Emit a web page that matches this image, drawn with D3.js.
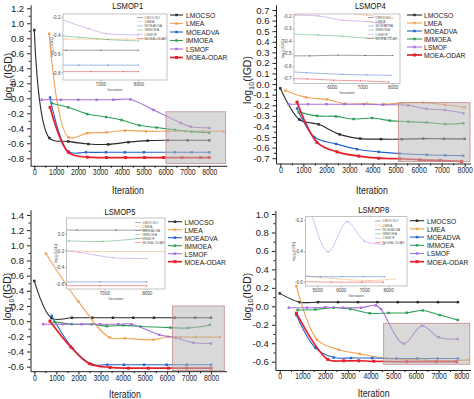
<!DOCTYPE html>
<html>
<head>
<meta charset="utf-8">
<script src="https://cdn.jsdelivr.net/npm/d3@7"></script>
<style>
  body { margin: 0; background: #fff; }
  svg { display: block; font-family: "Liberation Sans", Arial, sans-serif; }
</style>
</head>
<body>
<svg id="chart" width="474" height="399"></svg>
<script>
// ---- data ----
const algorithms = ['LMOCSO', 'LMEA', 'MOEADVA', 'IMMOEA', 'LSMOF', 'MOEA-ODAR'];
const colors = ['#2b2b2b', '#f2a154', '#2563c9', '#2f9e55', '#a870dc', '#e3202c'];
const iterTicks = [0, 1000, 2000, 3000, 4000, 5000, 6000, 7000, 8000];

const p1YTicks = [-0.8, -0.6, -0.4, -0.2, 0.0, 0.2, 0.4, 0.6, 0.8, 1.0, 1.2];
const p4YTicks_lsmop4 = [-0.7, -0.6, -0.5, -0.4, -0.3, -0.2, -0.1, 0.0, 0.1, 0.2, 0.3, 0.4, 0.5, 0.6, 0.7];
const p5YTicks = [-0.6, -0.4, -0.2, 0.0, 0.2, 0.4, 0.6, 0.8, 1.0, 1.2, 1.4];
const p8YTicks = [-0.6, -0.4, -0.2, 0.0, 0.2, 0.4, 0.6, 0.8, 1.0];

// LSMOP1  [iteration, log10(IGD)]
const lsmop1_LMOCSO = [[0, 0.91], [690, -0.53], [1550, -0.575], [2470, -0.61], [3380, -0.615], [4300, -0.585], [5180, -0.565], [6100, -0.56], [7010, -0.56], [8000, -0.56]];
const lsmop1_LMEA = [[680, 0.86], [1560, -0.52], [2420, -0.465], [3300, -0.455], [4150, -0.43], [5100, -0.44], [6100, -0.44], [6900, -0.44], [7700, -0.44], [8650, -0.44]];
const lsmop1_MOEADVA = [[720, 0.01], [1560, -0.71], [2360, -0.72], [3280, -0.72], [4140, -0.72], [5010, -0.72], [6430, -0.72], [7200, -0.72], [8000, -0.72]];
const lsmop1_IMMOEA = [[790, -0.065], [1550, -0.12], [2420, -0.21], [3280, -0.25], [3990, -0.29], [4800, -0.36], [5590, -0.39], [6430, -0.42], [7190, -0.445], [8000, -0.46]];
const lsmop1_LSMOF = [[340, -0.02], [1220, -0.02], [2010, -0.02], [2850, -0.02], [3610, -0.02], [4400, -0.015], [5450, -0.155], [6700, -0.33], [7150, -0.38], [8000, -0.395]];
const lsmop1_ODAR = [[720, -0.12], [1555, -0.72], [2420, -0.785], [3300, -0.79], [4170, -0.79], [5040, -0.79], [5900, -0.79], [6750, -0.79], [7600, -0.79], [8000, -0.79]];

// LSMOP4
const lsmop4_LMOCSO = [[0, -0.04], [825, -0.335], [1660, -0.38], [2575, -0.475], [3470, -0.515], [4370, -0.52], [5270, -0.52], [6200, -0.515], [7100, -0.517], [8000, -0.517]];
const lsmop4_LMEA = [[220, -0.06], [1115, -0.125], [2025, -0.145], [2820, -0.185], [3760, -0.185], [4500, -0.19], [5270, -0.18], [6200, -0.175], [7150, -0.195], [8000, -0.22]];
const lsmop4_MOEADVA = [[725, -0.23], [1475, -0.5], [2420, -0.565], [3330, -0.615], [4270, -0.64], [5170, -0.655], [6350, -0.668], [7150, -0.673], [7940, -0.676]];
const lsmop4_IMMOEA = [[800, -0.265], [1590, -0.3], [2420, -0.305], [3180, -0.33], [3980, -0.32], [4750, -0.345], [5550, -0.354], [6350, -0.363], [7150, -0.378], [7940, -0.37]];
const lsmop4_LSMOF = [[360, -0.19], [1200, -0.19], [2000, -0.19], [2780, -0.19], [3620, -0.19], [4450, -0.195], [5550, -0.2], [6350, -0.235], [7150, -0.245], [7940, -0.275]];
const lsmop4_ODAR = [[725, -0.17], [1590, -0.55], [2460, -0.64], [3400, -0.68], [4270, -0.7], [5190, -0.705], [6060, -0.715], [6940, -0.72], [7870, -0.73]];

// LSMOP5
const lsmop5_LMOCSO = [[0, 0.53], [780, 0.04], [1700, 0.045], [2620, 0.045], [3560, 0.045], [4480, 0.045], [5420, 0.045], [6350, 0.045], [7280, 0.045], [8000, 0.045]];
const lsmop5_LMEA = [[530, 0.89], [1990, 0.26], [3400, -0.215], [4100, -0.225], [5400, -0.245], [6050, -0.205], [6600, -0.21], [7300, -0.21], [8400, -0.21]];
const lsmop5_MOEADVA = [[785, 0.07], [1740, -0.36], [2600, -0.57], [3300, -0.575], [4060, -0.575], [4970, -0.575], [5990, -0.575], [6900, -0.575], [8000, -0.575]];
const lsmop5_IMMOEA = [[890, -0.01], [1690, -0.04], [2600, -0.04], [3280, -0.065], [4030, -0.055], [4800, -0.07], [6170, -0.085], [6970, -0.09], [7950, -0.05]];
const lsmop5_LSMOF = [[400, -0.04], [1310, -0.04], [2140, -0.04], [2970, -0.04], [3800, -0.04], [4400, -0.04], [5660, -0.18], [6400, -0.22], [7200, -0.285], [8000, -0.295]];
const lsmop5_ODAR = [[710, 0.0], [1650, -0.34], [2490, -0.56], [3430, -0.61], [4260, -0.62], [5160, -0.62], [6070, -0.62], [6900, -0.62], [8000, -0.62]];

// LSMOP8
const lsmop8_LMOCSO = [[0, 0.14], [880, 0.045], [1690, 0.045], [2570, 0.045], [3450, 0.045], [4300, 0.045], [5200, 0.045], [6080, 0.045], [6970, 0.045], [7850, 0.045]];
const lsmop8_LMEA = [[735, 0.22], [1645, -0.36], [2600, -0.47], [3520, -0.515], [4700, -0.565], [5600, -0.575], [6400, -0.585], [7200, -0.59], [8300, -0.58]];
const lsmop8_MOEADVA = [[735, -0.095], [1570, -0.45], [2380, -0.555], [3140, -0.56], [4070, -0.56], [5140, -0.565], [6050, -0.565], [6960, -0.565], [7850, -0.565]];
const lsmop8_IMMOEA = [[790, -0.04], [1570, -0.035], [2380, -0.015], [3110, -0.03], [3965, -0.075], [4800, -0.072], [5600, -0.07], [6300, -0.045], [7050, -0.095], [7840, -0.148]];
const lsmop8_LSMOF = [[400, -0.015], [1200, -0.015], [2010, -0.01], [2790, -0.015], [3580, -0.015], [4230, 0.01], [4460, -0.03], [5460, -0.405], [6270, -0.21], [7000, -0.335], [7840, -0.355]];
const lsmop8_ODAR = [[735, -0.075], [2115, -0.575], [2820, -0.59], [3480, -0.59], [4140, -0.595], [5600, -0.6], [6900, -0.6], [7800, -0.6]];

// ---- layout ----
const panels = [
  { title: 'LSMOP1', series: [lsmop1_LMOCSO, lsmop1_LMEA, lsmop1_MOEADVA, lsmop1_IMMOEA, lsmop1_LSMOF, lsmop1_ODAR],
    left: 30.6, right: 226.8, top: 4.9, bottom: 165.8, xDomain: [-170, 8800], yDomain: [-0.9, 1.245], yTicks: p1YTicks,
    box: [6020, 8750, -0.87, -0.18],
    legend: { lx: 170, lw: 13, tx: 186, ly: 15, step: 8.5 },
    titlePos: [127.7, 8.5], xLabelPos: [128, 193.5], yLabelPos: [8.3, 76.7],
    inset: { x0: 63, x1: 167, y0: 14, y1: 80, xDomain: [6016, 8750], yDomain: [-0.88, -0.17],
      xTicks: [7000, 8000], yTicks: [-0.2, -0.4, -0.6, -0.8], lgx: 137, lgy: 17.5, lgStep: 4.2 } },
  { title: 'LSMOP4', series: [lsmop4_LMOCSO, lsmop4_LMEA, lsmop4_MOEADVA, lsmop4_IMMOEA, lsmop4_LSMOF, lsmop4_ODAR],
    left: 276, right: 470.5, top: 4.7, bottom: 163.5, xDomain: [-187, 8252], yDomain: [-0.75, 0.75], yTicks: p4YTicks_lsmop4,
    box: [5120, 8230, -0.73, -0.175],
    legend: { lx: 407, lw: 15, tx: 424, ly: 15, step: 8 },
    titlePos: [370.3, 8.5], xLabelPos: [372, 193.5], yLabelPos: [247.5, 80],
    inset: { x0: 294, x1: 400, y0: 14, y1: 83.3, xDomain: [4760, 8240], yDomain: [-0.74, -0.185],
      xTicks: [6000, 7000, 8000], yTicks: [-0.2, -0.3, -0.4, -0.5, -0.6, -0.7], lgx: 368, lgy: 17.5, lgStep: 4.2 } },
  { title: 'LSMOP5', series: [lsmop5_LMOCSO, lsmop5_LMEA, lsmop5_MOEADVA, lsmop5_IMMOEA, lsmop5_LSMOF, lsmop5_ODAR],
    left: 30.5, right: 226.5, top: 209.7, bottom: 371.2, xDomain: [-172, 8700], yDomain: [-0.66, 1.47], yTicks: p5YTicks,
    box: [6250, 8600, -0.653, 0.2],
    legend: { lx: 168, lw: 14, tx: 184.5, ly: 221.7, step: 8 },
    titlePos: [120, 214.5], xLabelPos: [125, 397.5], yLabelPos: [7.3, 296.7],
    inset: { x0: 66.7, x1: 165, y0: 218, y1: 289, xDomain: [6110, 8430], yDomain: [-0.66, 0.19],
      xTicks: [7000, 8000], yTicks: [0.0, -0.2, -0.4, -0.6], lgx: 135, lgy: 222.5, lgStep: 4 } },
  { title: 'LSMOP8', series: [lsmop8_LMOCSO, lsmop8_LMEA, lsmop8_MOEADVA, lsmop8_IMMOEA, lsmop8_LSMOF, lsmop8_ODAR],
    left: 275.4, right: 470.4, top: 210.3, bottom: 370, xDomain: [-189, 8400], yDomain: [-0.69, 1.04], yTicks: p8YTicks,
    box: [4580, 8370, -0.628, -0.184],
    legend: { lx: 410, lw: 14, tx: 427, ly: 220.7, step: 8.2 },
    titlePos: [373.7, 212.7], xLabelPos: [373.7, 397], yLabelPos: [247, 296.7],
    inset: { x0: 305.3, x1: 407, y0: 216.7, y1: 286, xDomain: [4500, 8800], yDomain: [-0.625, -0.178],
      xTicks: [5000, 6000, 7000, 8000], yTicks: [-0.2, -0.4, -0.6], lgx: 375, lgy: 221, lgStep: 4.3 } }
];

const svg = d3.select('#chart');
const FONT = '"Liberation Sans", Arial, sans-serif';

// the source figure is squashed horizontally, so text is narrowed a bit
function squeeze(sel, k) {
  sel.each(function () {
    const len = this.getComputedTextLength();
    if (len > 0) d3.select(this).attr('textLength', len * k).attr('lengthAdjust', 'spacingAndGlyphs');
  });
}

function logLabel(t, size) {
  t.append('tspan').text('log');
  t.append('tspan').attr('font-size', size * 0.7).attr('dy', size * 0.25).text('10');
  t.append('tspan').attr('dy', -size * 0.25).text('(IGD)');
}

const makeLine = (x, y) => d3.line()
  .x(d => x(d[0]))
  .y(d => y(d[1]))
  .curve(d3.curveCatmullRom.alpha(0.5));

const halfway = arr => arr.slice(1).map((v, i) => (v + arr[i]) / 2);

function styleAxis(a, size) {
  a.attr('font-family', FONT).attr('font-size', size);
  a.select('.domain').attr('stroke', '#222');
  a.selectAll('.tick line').attr('stroke', '#222');
  a.selectAll('.tick text').attr('fill', '#222');
}

function drawSeries(g, p, x, y, thin) {
  p.series.forEach((s, i) => {
    const red = i === 5;
    g.append('path')
      .datum(s)
      .attr('fill', 'none')
      .attr('stroke', colors[i])
      .attr('stroke-opacity', thin ? 0.75 : 1)
      .attr('stroke-width', thin ? 0.6 : (red ? 1.7 : 1.1))
      .attr('d', makeLine(x, y));
    g.selectAll(null)
      .data(s)
      .enter()
      .append('path')
      .attr('transform', d => `translate(${x(d[0])},${y(d[1])})`)
      .attr('d', d3.symbol(d3.symbolSquare, thin ? 1.2 : (red ? 9 : 6)))
      .attr('fill', colors[i])
      .attr('fill-opacity', thin ? 0.7 : 1);
  });
}

function drawPanel(p, k) {
  const g = svg.append('g');
  const x = d3.scaleLinear().domain(p.xDomain).range([p.left, p.right]);
  const y = d3.scaleLinear().domain(p.yDomain).range([p.bottom, p.top]);

  drawSeries(g, p, x, y, false);

  // zoomed region
  g.append('rect')
    .attr('x', x(p.box[0]))
    .attr('y', y(p.box[3]))
    .attr('width', x(p.box[1]) - x(p.box[0]))
    .attr('height', y(p.box[2]) - y(p.box[3]))
    .attr('fill', '#b9b9b9')
    .attr('fill-opacity', 0.55)
    .attr('stroke', '#c88a8a')
    .attr('stroke-width', 0.8);

  // x axis
  const xa = g.append('g')
    .attr('transform', `translate(0,${p.bottom})`)
    .call(d3.axisBottom(x).tickValues(iterTicks).tickSize(3.5).tickSizeOuter(0).tickPadding(0).tickFormat(d3.format('d')));
  styleAxis(xa, 9.5);
  xa.selectAll('.tick text').attr('dy', '0.62em');
  squeeze(xa.selectAll('.tick text'), 0.72);
  const xm = g.append('g')
    .attr('transform', `translate(0,${p.bottom})`)
    .call(d3.axisBottom(x).tickValues(halfway(iterTicks)).tickSize(2).tickFormat(''));
  xm.select('.domain').remove();
  xm.selectAll('line').attr('stroke', '#222');

  // y axis
  const ya = g.append('g')
    .attr('transform', `translate(${p.left},0)`)
    .call(d3.axisLeft(y).tickValues(p.yTicks).tickSize(3.5).tickSizeOuter(0).tickFormat(d => d.toFixed(1)));
  styleAxis(ya, 9.5);
  const ym = g.append('g')
    .attr('transform', `translate(${p.left},0)`)
    .call(d3.axisLeft(y).tickValues(halfway(p.yTicks)).tickSize(2).tickFormat(''));
  ym.select('.domain').remove();
  ym.selectAll('line').attr('stroke', '#222');

  // labels
  const title = g.append('text')
    .attr('x', p.titlePos[0]).attr('y', p.titlePos[1])
    .attr('text-anchor', 'middle').attr('font-size', 9.5).attr('fill', '#111')
    .text(p.title);
  squeeze(title, 0.8);

  const xl = g.append('text')
    .attr('x', p.xLabelPos[0]).attr('y', p.xLabelPos[1])
    .attr('text-anchor', 'middle').attr('font-size', 10).attr('fill', '#222')
    .text('Iteration');
  squeeze(xl, 0.88);

  const yl = g.append('text')
    .attr('transform', `translate(${p.yLabelPos[0] + 3.6},${p.yLabelPos[1]}) rotate(-90)`)
    .attr('text-anchor', 'middle').attr('font-size', 10.5).attr('fill', '#222');
  logLabel(yl, 10.5);

  // legend
  const L = p.legend;
  algorithms.forEach((name, i) => {
    const ly = L.ly + i * L.step;
    g.append('line')
      .attr('x1', L.lx).attr('x2', L.lx + L.lw).attr('y1', ly).attr('y2', ly)
      .attr('stroke', colors[i]).attr('stroke-width', i === 5 ? 1.7 : 1.1);
    g.append('path')
      .attr('transform', `translate(${L.lx + L.lw / 2},${ly})`)
      .attr('d', d3.symbol(d3.symbolSquare, i === 5 ? 9 : 6))
      .attr('fill', colors[i]);
    const t = g.append('text')
      .attr('x', L.tx).attr('y', ly).attr('dy', '0.36em')
      .attr('font-size', 8).attr('fill', '#222')
      .text(name);
    squeeze(t, 0.84);
  });

  drawInset(p, k);
}

function drawInset(p, k) {
  const ins = p.inset;
  const g = svg.append('g');
  const x = d3.scaleLinear().domain(ins.xDomain).range([ins.x0, ins.x1]);
  const y = d3.scaleLinear().domain(ins.yDomain).range([ins.y1, ins.y0]);

  svg.append('clipPath').attr('id', 'inset-clip-' + k)
    .append('rect')
    .attr('x', ins.x0).attr('y', ins.y0)
    .attr('width', ins.x1 - ins.x0).attr('height', ins.y1 - ins.y0);

  g.append('rect')
    .attr('x', ins.x0).attr('y', ins.y0)
    .attr('width', ins.x1 - ins.x0).attr('height', ins.y1 - ins.y0)
    .attr('fill', '#fff');

  const inner = g.append('g').attr('clip-path', `url(#inset-clip-${k})`);
  drawSeries(inner, p, x, y, true);

  g.append('rect')
    .attr('x', ins.x0).attr('y', ins.y0)
    .attr('width', ins.x1 - ins.x0).attr('height', ins.y1 - ins.y0)
    .attr('fill', 'none').attr('stroke', '#9a9a9a').attr('stroke-width', 0.6);

  const xa = g.append('g')
    .attr('transform', `translate(0,${ins.y1})`)
    .call(d3.axisBottom(x).tickValues(ins.xTicks).tickSize(1.5).tickSizeOuter(0).tickPadding(1).tickFormat(d3.format('d')));
  styleAxis(xa, 4.6);
  xa.select('.domain').remove();
  xa.selectAll('.tick line').attr('stroke', '#777').attr('stroke-width', 0.5);
  xa.selectAll('.tick text').attr('fill', '#444');

  const ya = g.append('g')
    .attr('transform', `translate(${ins.x0},0)`)
    .call(d3.axisLeft(y).tickValues(ins.yTicks).tickSize(1.5).tickSizeOuter(0).tickPadding(1).tickFormat(d => d.toFixed(1)));
  styleAxis(ya, 4.6);
  ya.select('.domain').remove();
  ya.selectAll('.tick line').attr('stroke', '#777').attr('stroke-width', 0.5);
  ya.selectAll('.tick text').attr('fill', '#444');

  g.append('text')
    .attr('x', (ins.x0 + ins.x1) / 2).attr('y', ins.y1 + 10.5)
    .attr('text-anchor', 'middle').attr('font-size', 4.2).attr('fill', '#555')
    .text('Iteration');

  const yl = g.append('text')
    .attr('transform', `translate(${ins.x0 - 10},${(ins.y0 + ins.y1) / 2}) rotate(-90)`)
    .attr('text-anchor', 'middle').attr('font-size', 4.2).attr('fill', '#555');
  logLabel(yl, 4.2);

  algorithms.forEach((name, i) => {
    const ly = ins.lgy + i * ins.lgStep;
    g.append('line')
      .attr('x1', ins.lgx).attr('x2', ins.lgx + 6).attr('y1', ly).attr('y2', ly)
      .attr('stroke', colors[i]).attr('stroke-width', 0.5).attr('stroke-opacity', 0.8);
    g.append('text')
      .attr('x', ins.lgx + 7.5).attr('y', ly).attr('dy', '0.35em')
      .attr('font-size', 3.6).attr('fill', '#666')
      .text(name);
  });
}

panels.forEach(drawPanel);
</script>
</body>
</html>
